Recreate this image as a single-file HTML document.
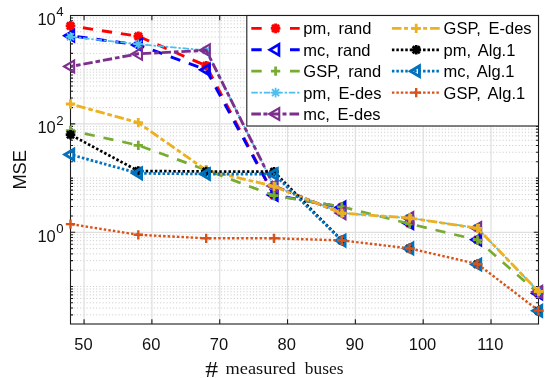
<!DOCTYPE html>
<html><head><meta charset="utf-8"><title>MSE vs measured buses</title>
<style>html,body{margin:0;padding:0;background:#fff}svg{display:block}.t{font-family:"Liberation Sans",Arial,sans-serif;font-size:16.5px;fill:#111}</style>
</head><body>
<svg width="550" height="378" viewBox="0 0 550 378">
<rect width="550" height="378" fill="#fff"/>
<defs><clipPath id="ax"><rect x="70.5" y="15.5" width="468" height="308.5"/></clipPath></defs>
<path d="M70.5 314.84H538.5M70.5 308.07H538.5M70.5 302.82H538.5M70.5 298.52H538.5M70.5 294.90H538.5M70.5 291.75H538.5M70.5 288.98H538.5M70.5 270.18H538.5M70.5 260.64H538.5M70.5 253.87H538.5M70.5 248.62H538.5M70.5 244.32H538.5M70.5 240.70H538.5M70.5 237.55H538.5M70.5 234.78H538.5M70.5 215.98H538.5M70.5 206.44H538.5M70.5 199.67H538.5M70.5 194.42H538.5M70.5 190.12H538.5M70.5 186.50H538.5M70.5 183.35H538.5M70.5 180.58H538.5M70.5 161.78H538.5M70.5 152.24H538.5M70.5 145.47H538.5M70.5 140.22H538.5M70.5 135.92H538.5M70.5 132.30H538.5M70.5 129.15H538.5M70.5 126.38H538.5M70.5 107.58H538.5M70.5 98.04H538.5M70.5 91.27H538.5M70.5 86.02H538.5M70.5 81.72H538.5M70.5 78.10H538.5M70.5 74.95H538.5M70.5 72.18H538.5M70.5 53.38H538.5M70.5 43.84H538.5M70.5 37.07H538.5M70.5 31.82H538.5M70.5 27.52H538.5M70.5 23.90H538.5M70.5 20.75H538.5M70.5 17.98H538.5M70.5 286.50H538.5M70.5 178.10H538.5M70.5 69.70H538.5" stroke="#cdcdcd" stroke-width="1" stroke-dasharray="1.1 2.1" fill="none"/>
<path d="M84.07 15.5V324.0M151.89 15.5V324.0M219.72 15.5V324.0M287.54 15.5V324.0M355.37 15.5V324.0M423.20 15.5V324.0M491.02 15.5V324.0M70.5 232.30H538.5M70.5 123.90H538.5" stroke="#dfdfdf" stroke-width="1.2" fill="none"/>
<rect x="70.5" y="15.5" width="468.0" height="308.5" fill="none" stroke="#1c1c1c" stroke-width="1.1"/>
<path d="M84.07 324.0v-4.7M84.07 15.5v4.7M151.89 324.0v-4.7M151.89 15.5v4.7M219.72 324.0v-4.7M219.72 15.5v4.7M287.54 324.0v-4.7M287.54 15.5v4.7M355.37 324.0v-4.7M355.37 15.5v4.7M423.20 324.0v-4.7M423.20 15.5v4.7M491.02 324.0v-4.7M491.02 15.5v4.7M70.5 232.30h4.7M538.5 232.30h-4.7M70.5 123.90h4.7M538.5 123.90h-4.7M70.5 314.84h2.5M538.5 314.84h-2.5M70.5 308.07h2.5M538.5 308.07h-2.5M70.5 302.82h2.5M538.5 302.82h-2.5M70.5 298.52h2.5M538.5 298.52h-2.5M70.5 294.90h2.5M538.5 294.90h-2.5M70.5 291.75h2.5M538.5 291.75h-2.5M70.5 288.98h2.5M538.5 288.98h-2.5M70.5 270.18h2.5M538.5 270.18h-2.5M70.5 260.64h2.5M538.5 260.64h-2.5M70.5 253.87h2.5M538.5 253.87h-2.5M70.5 248.62h2.5M538.5 248.62h-2.5M70.5 244.32h2.5M538.5 244.32h-2.5M70.5 240.70h2.5M538.5 240.70h-2.5M70.5 237.55h2.5M538.5 237.55h-2.5M70.5 234.78h2.5M538.5 234.78h-2.5M70.5 215.98h2.5M538.5 215.98h-2.5M70.5 206.44h2.5M538.5 206.44h-2.5M70.5 199.67h2.5M538.5 199.67h-2.5M70.5 194.42h2.5M538.5 194.42h-2.5M70.5 190.12h2.5M538.5 190.12h-2.5M70.5 186.50h2.5M538.5 186.50h-2.5M70.5 183.35h2.5M538.5 183.35h-2.5M70.5 180.58h2.5M538.5 180.58h-2.5M70.5 161.78h2.5M538.5 161.78h-2.5M70.5 152.24h2.5M538.5 152.24h-2.5M70.5 145.47h2.5M538.5 145.47h-2.5M70.5 140.22h2.5M538.5 140.22h-2.5M70.5 135.92h2.5M538.5 135.92h-2.5M70.5 132.30h2.5M538.5 132.30h-2.5M70.5 129.15h2.5M538.5 129.15h-2.5M70.5 126.38h2.5M538.5 126.38h-2.5M70.5 107.58h2.5M538.5 107.58h-2.5M70.5 98.04h2.5M538.5 98.04h-2.5M70.5 91.27h2.5M538.5 91.27h-2.5M70.5 86.02h2.5M538.5 86.02h-2.5M70.5 81.72h2.5M538.5 81.72h-2.5M70.5 78.10h2.5M538.5 78.10h-2.5M70.5 74.95h2.5M538.5 74.95h-2.5M70.5 72.18h2.5M538.5 72.18h-2.5M70.5 53.38h2.5M538.5 53.38h-2.5M70.5 43.84h2.5M538.5 43.84h-2.5M70.5 37.07h2.5M538.5 37.07h-2.5M70.5 31.82h2.5M538.5 31.82h-2.5M70.5 27.52h2.5M538.5 27.52h-2.5M70.5 23.90h2.5M538.5 23.90h-2.5M70.5 20.75h2.5M538.5 20.75h-2.5M70.5 17.98h2.5M538.5 17.98h-2.5M70.5 286.50h2.5M538.5 286.50h-2.5M70.5 178.10h2.5M538.5 178.10h-2.5M70.5 69.70h2.5M538.5 69.70h-2.5" stroke="#1c1c1c" stroke-width="1.1" fill="none"/>
<polyline clip-path="url(#ax)" points="274.0,195.3 206.2,65.8 138.3,36.3 70.5,25.9" fill="none" stroke="#ff0000" stroke-width="2.9" stroke-dasharray="10.2 9" stroke-dashoffset="2.78" stroke-linejoin="round"/>
<path d="M65.70 25.90H75.30M70.50 21.10V30.70M66.95 22.35L74.05 29.45M66.95 29.45L74.05 22.35" stroke="#ff0000" stroke-width="2.9" fill="none"/>
<path d="M133.50 36.30H143.10M138.30 31.50V41.10M134.75 32.75L141.85 39.85M134.75 39.85L141.85 32.75" stroke="#ff0000" stroke-width="2.9" fill="none"/>
<path d="M201.40 65.80H211.00M206.20 61.00V70.60M202.65 62.25L209.75 69.35M202.65 69.35L209.75 62.25" stroke="#ff0000" stroke-width="2.9" fill="none"/>
<path d="M269.20 195.30H278.80M274.00 190.50V200.10M270.45 191.75L277.55 198.85M270.45 198.85L277.55 191.75" stroke="#ff0000" stroke-width="2.9" fill="none"/>
<path d="M337.00 207.00H346.60M341.80 202.20V211.80M338.25 203.45L345.35 210.55M338.25 210.55L345.35 203.45" stroke="#ff0000" stroke-width="2.9" fill="none"/>
<path d="M404.80 223.30H414.40M409.60 218.50V228.10M406.05 219.75L413.15 226.85M406.05 226.85L413.15 219.75" stroke="#ff0000" stroke-width="2.9" fill="none"/>
<path d="M472.70 239.80H482.30M477.50 235.00V244.60M473.95 236.25L481.05 243.35M473.95 243.35L481.05 236.25" stroke="#ff0000" stroke-width="2.9" fill="none"/>
<path d="M533.70 293.50H543.30M538.50 288.70V298.30M534.95 289.95L542.05 297.05M534.95 297.05L542.05 289.95" stroke="#ff0000" stroke-width="2.9" fill="none"/>
<polyline clip-path="url(#ax)" points="341.8,207.3 274.0,195.0 206.2,69.8 138.3,44.9 70.5,35.7" fill="none" stroke="#0000ff" stroke-width="2.9" stroke-dasharray="10.2 9" stroke-dashoffset="10.75" stroke-linejoin="round"/>
<path d="M64.60 35.70L73.85 30.24V41.16Z" stroke="#0000ff" stroke-width="2.7" fill="none" stroke-linejoin="miter"/>
<path d="M132.40 44.90L141.65 39.44V50.36Z" stroke="#0000ff" stroke-width="2.7" fill="none" stroke-linejoin="miter"/>
<path d="M200.30 69.80L209.55 64.34V75.26Z" stroke="#0000ff" stroke-width="2.7" fill="none" stroke-linejoin="miter"/>
<path d="M268.10 195.00L277.35 189.54V200.46Z" stroke="#0000ff" stroke-width="2.7" fill="none" stroke-linejoin="miter"/>
<path d="M335.90 207.30L345.15 201.84V212.76Z" stroke="#0000ff" stroke-width="2.7" fill="none" stroke-linejoin="miter"/>
<path d="M403.70 223.30L412.95 217.84V228.76Z" stroke="#0000ff" stroke-width="2.7" fill="none" stroke-linejoin="miter"/>
<path d="M471.60 239.70L480.85 234.24V245.16Z" stroke="#0000ff" stroke-width="2.7" fill="none" stroke-linejoin="miter"/>
<path d="M532.60 293.50L541.85 288.04V298.96Z" stroke="#0000ff" stroke-width="2.7" fill="none" stroke-linejoin="miter"/>
<polyline clip-path="url(#ax)" points="538.5,293.5 477.5,240.0 409.6,223.8 341.8,206.8 274.0,195.6 206.2,170.0 138.3,145.3 70.5,130.5" fill="none" stroke="#77ac30" stroke-width="2.7" stroke-dasharray="10.2 9" stroke-dashoffset="1.10" stroke-linejoin="round"/>
<path d="M65.85 130.50H75.15M70.50 125.85V135.15" stroke="#77ac30" stroke-width="2.7" fill="none"/>
<path d="M133.65 145.30H142.95M138.30 140.65V149.95" stroke="#77ac30" stroke-width="2.7" fill="none"/>
<path d="M201.55 170.00H210.85M206.20 165.35V174.65" stroke="#77ac30" stroke-width="2.7" fill="none"/>
<path d="M269.35 195.60H278.65M274.00 190.95V200.25" stroke="#77ac30" stroke-width="2.7" fill="none"/>
<path d="M337.15 206.80H346.45M341.80 202.15V211.45" stroke="#77ac30" stroke-width="2.7" fill="none"/>
<path d="M404.95 223.80H414.25M409.60 219.15V228.45" stroke="#77ac30" stroke-width="2.7" fill="none"/>
<path d="M472.85 240.00H482.15M477.50 235.35V244.65" stroke="#77ac30" stroke-width="2.7" fill="none"/>
<path d="M533.85 293.50H543.15M538.50 288.85V298.15" stroke="#77ac30" stroke-width="2.7" fill="none"/>
<polyline clip-path="url(#ax)" points="538.5,291.7 477.5,228.0 409.6,218.0 341.8,213.0 274.0,186.0 206.2,50.3 138.3,44.2 70.5,36.8" fill="none" stroke="#4dbeee" stroke-width="1.75" stroke-dasharray="2.4 1.8 6.5 1.8" stroke-dashoffset="0.00" stroke-linejoin="round"/>
<path d="M65.70 36.80H75.30M70.50 32.00V41.60M66.95 33.25L74.05 40.35M66.95 40.35L74.05 33.25" stroke="#4dbeee" stroke-width="1.75" fill="none"/>
<path d="M133.50 44.20H143.10M138.30 39.40V49.00M134.75 40.65L141.85 47.75M134.75 47.75L141.85 40.65" stroke="#4dbeee" stroke-width="1.75" fill="none"/>
<path d="M201.40 50.30H211.00M206.20 45.50V55.10M202.65 46.75L209.75 53.85M202.65 53.85L209.75 46.75" stroke="#4dbeee" stroke-width="1.75" fill="none"/>
<path d="M269.20 186.00H278.80M274.00 181.20V190.80M270.45 182.45L277.55 189.55M270.45 189.55L277.55 182.45" stroke="#4dbeee" stroke-width="1.75" fill="none"/>
<path d="M337.00 213.00H346.60M341.80 208.20V217.80M338.25 209.45L345.35 216.55M338.25 216.55L345.35 209.45" stroke="#4dbeee" stroke-width="1.75" fill="none"/>
<path d="M404.80 218.00H414.40M409.60 213.20V222.80M406.05 214.45L413.15 221.55M406.05 221.55L413.15 214.45" stroke="#4dbeee" stroke-width="1.75" fill="none"/>
<path d="M472.70 228.00H482.30M477.50 223.20V232.80M473.95 224.45L481.05 231.55M473.95 231.55L481.05 224.45" stroke="#4dbeee" stroke-width="1.75" fill="none"/>
<path d="M533.70 291.70H543.30M538.50 286.90V296.50M534.95 288.15L542.05 295.25M534.95 295.25L542.05 288.15" stroke="#4dbeee" stroke-width="1.75" fill="none"/>
<polyline clip-path="url(#ax)" points="341.8,213.1 274.0,186.0 206.2,50.3 138.3,53.8 70.5,66.5" fill="none" stroke="#7e2f8e" stroke-width="2.9" stroke-dasharray="4.6 2.9 9.4 2.9" stroke-dashoffset="4.95" stroke-linejoin="round"/>
<path d="M64.00 66.50L74.15 60.52V72.48Z" stroke="#7e2f8e" stroke-width="2.1" fill="none" stroke-linejoin="miter"/>
<path d="M131.80 53.80L141.95 47.82V59.78Z" stroke="#7e2f8e" stroke-width="2.1" fill="none" stroke-linejoin="miter"/>
<path d="M199.70 50.30L209.85 44.32V56.28Z" stroke="#7e2f8e" stroke-width="2.1" fill="none" stroke-linejoin="miter"/>
<path d="M267.50 186.00L277.65 180.02V191.98Z" stroke="#7e2f8e" stroke-width="2.1" fill="none" stroke-linejoin="miter"/>
<path d="M335.30 213.10L345.45 207.12V219.08Z" stroke="#7e2f8e" stroke-width="2.1" fill="none" stroke-linejoin="miter"/>
<path d="M403.10 218.00L413.25 212.02V223.98Z" stroke="#7e2f8e" stroke-width="2.1" fill="none" stroke-linejoin="miter"/>
<path d="M471.00 228.00L481.15 222.02V233.98Z" stroke="#7e2f8e" stroke-width="2.1" fill="none" stroke-linejoin="miter"/>
<path d="M532.00 291.90L542.15 285.92V297.88Z" stroke="#7e2f8e" stroke-width="2.1" fill="none" stroke-linejoin="miter"/>
<polyline clip-path="url(#ax)" points="538.5,291.5 477.5,228.3 409.6,218.0 341.8,213.2 274.0,186.3 206.2,170.2 138.3,122.7 70.5,104.0" fill="none" stroke="#edb120" stroke-width="2.8" stroke-dasharray="4.6 2.9 9.4 2.9" stroke-dashoffset="17.60" stroke-linejoin="round"/>
<path d="M65.85 104.00H75.15M70.50 99.35V108.65" stroke="#edb120" stroke-width="2.8" fill="none"/>
<path d="M133.65 122.70H142.95M138.30 118.05V127.35" stroke="#edb120" stroke-width="2.8" fill="none"/>
<path d="M201.55 170.20H210.85M206.20 165.55V174.85" stroke="#edb120" stroke-width="2.8" fill="none"/>
<path d="M269.35 186.30H278.65M274.00 181.65V190.95" stroke="#edb120" stroke-width="2.8" fill="none"/>
<path d="M337.15 213.20H346.45M341.80 208.55V217.85" stroke="#edb120" stroke-width="2.8" fill="none"/>
<path d="M404.95 218.00H414.25M409.60 213.35V222.65" stroke="#edb120" stroke-width="2.8" fill="none"/>
<path d="M472.85 228.30H482.15M477.50 223.65V232.95" stroke="#edb120" stroke-width="2.8" fill="none"/>
<path d="M533.85 291.50H543.15M538.50 286.85V296.15" stroke="#edb120" stroke-width="2.8" fill="none"/>
<polyline clip-path="url(#ax)" points="341.8,240.4 274.0,171.7 206.2,171.5 138.3,171.0 70.5,134.7" fill="none" stroke="#000000" stroke-width="2.7" stroke-dasharray="2.5 2.1" stroke-dashoffset="3.05" stroke-linejoin="round"/>
<path d="M65.70 134.70H75.30M70.50 129.90V139.50M66.95 131.15L74.05 138.25M66.95 138.25L74.05 131.15" stroke="#000000" stroke-width="2.7" fill="none"/>
<path d="M133.50 171.00H143.10M138.30 166.20V175.80M134.75 167.45L141.85 174.55M134.75 174.55L141.85 167.45" stroke="#000000" stroke-width="2.7" fill="none"/>
<path d="M201.40 171.50H211.00M206.20 166.70V176.30M202.65 167.95L209.75 175.05M202.65 175.05L209.75 167.95" stroke="#000000" stroke-width="2.7" fill="none"/>
<path d="M269.20 171.70H278.80M274.00 166.90V176.50M270.45 168.15L277.55 175.25M270.45 175.25L277.55 168.15" stroke="#000000" stroke-width="2.7" fill="none"/>
<path d="M337.00 240.40H346.60M341.80 235.60V245.20M338.25 236.85L345.35 243.95M338.25 243.95L345.35 236.85" stroke="#000000" stroke-width="2.7" fill="none"/>
<path d="M404.80 248.40H414.40M409.60 243.60V253.20M406.05 244.85L413.15 251.95M406.05 251.95L413.15 244.85" stroke="#000000" stroke-width="2.7" fill="none"/>
<path d="M472.70 264.30H482.30M477.50 259.50V269.10M473.95 260.75L481.05 267.85M473.95 267.85L481.05 260.75" stroke="#000000" stroke-width="2.7" fill="none"/>
<path d="M533.70 310.70H543.30M538.50 305.90V315.50M534.95 307.15L542.05 314.25M534.95 314.25L542.05 307.15" stroke="#000000" stroke-width="2.7" fill="none"/>
<polyline clip-path="url(#ax)" points="341.8,240.6 274.0,174.0 206.2,174.0 138.3,173.3 70.5,154.6" fill="none" stroke="#0072bd" stroke-width="2.8" stroke-dasharray="2.5 2.1" stroke-dashoffset="3.01" stroke-linejoin="round"/>
<path d="M64.80 154.60L73.75 149.31V159.89Z" stroke="#0072bd" stroke-width="2.9" fill="none" stroke-linejoin="miter"/>
<path d="M132.60 173.30L141.55 168.01V178.59Z" stroke="#0072bd" stroke-width="2.9" fill="none" stroke-linejoin="miter"/>
<path d="M200.50 174.00L209.45 168.71V179.29Z" stroke="#0072bd" stroke-width="2.9" fill="none" stroke-linejoin="miter"/>
<path d="M268.30 174.00L277.25 168.71V179.29Z" stroke="#0072bd" stroke-width="2.9" fill="none" stroke-linejoin="miter"/>
<path d="M336.10 240.60L345.05 235.31V245.89Z" stroke="#0072bd" stroke-width="2.9" fill="none" stroke-linejoin="miter"/>
<path d="M403.90 248.40L412.85 243.11V253.69Z" stroke="#0072bd" stroke-width="2.9" fill="none" stroke-linejoin="miter"/>
<path d="M471.80 264.50L480.75 259.21V269.79Z" stroke="#0072bd" stroke-width="2.9" fill="none" stroke-linejoin="miter"/>
<path d="M532.80 310.80L541.75 305.51V316.09Z" stroke="#0072bd" stroke-width="2.9" fill="none" stroke-linejoin="miter"/>
<polyline clip-path="url(#ax)" points="538.5,310.6 477.5,264.0 409.6,248.4 341.8,240.4 274.0,238.3 206.2,238.3 138.3,234.8 70.5,224.1" fill="none" stroke="#d95319" stroke-width="2.4" stroke-dasharray="2.5 2.1" stroke-dashoffset="0.00" stroke-linejoin="round"/>
<path d="M65.85 224.10H75.15M70.50 219.45V228.75" stroke="#d95319" stroke-width="2.4" fill="none"/>
<path d="M133.65 234.80H142.95M138.30 230.15V239.45" stroke="#d95319" stroke-width="2.4" fill="none"/>
<path d="M201.55 238.30H210.85M206.20 233.65V242.95" stroke="#d95319" stroke-width="2.4" fill="none"/>
<path d="M269.35 238.30H278.65M274.00 233.65V242.95" stroke="#d95319" stroke-width="2.4" fill="none"/>
<path d="M337.15 240.40H346.45M341.80 235.75V245.05" stroke="#d95319" stroke-width="2.4" fill="none"/>
<path d="M404.95 248.40H414.25M409.60 243.75V253.05" stroke="#d95319" stroke-width="2.4" fill="none"/>
<path d="M472.85 264.00H482.15M477.50 259.35V268.65" stroke="#d95319" stroke-width="2.4" fill="none"/>
<path d="M533.85 310.60H543.15M538.50 305.95V315.25" stroke="#d95319" stroke-width="2.4" fill="none"/>
<rect x="246.8" y="15.5" width="291.7" height="110.5" fill="#fff" stroke="#1c1c1c" stroke-width="1.1"/>
<path d="M251.3 28.4H299.7" stroke="#ff0000" stroke-width="2.9" stroke-dasharray="10.4 28.3" fill="none"/>
<path d="M270.80 28.40H280.40M275.60 23.60V33.20M272.05 24.85L279.15 31.95M272.05 31.95L279.15 24.85" stroke="#ff0000" stroke-width="2.9" fill="none"/>
<text x="303.3" y="34.3" class="t" style="word-spacing:3px;fill:#000">pm, rand</text>
<path d="M251.3 49.8H299.7" stroke="#0000ff" stroke-width="2.9" stroke-dasharray="10.4 28.3" fill="none"/>
<path d="M269.70 49.80L278.95 44.34V55.26Z" stroke="#0000ff" stroke-width="2.7" fill="none" stroke-linejoin="miter"/>
<text x="303.3" y="55.7" class="t" style="word-spacing:3px;fill:#000">mc, rand</text>
<path d="M251.3 71.2H299.7" stroke="#77ac30" stroke-width="2.7" stroke-dasharray="10.4 28.3" fill="none"/>
<path d="M270.95 71.20H280.25M275.60 66.55V75.85" stroke="#77ac30" stroke-width="2.7" fill="none"/>
<text x="303.3" y="77.1" class="t" style="word-spacing:3px;fill:#000">GSP, rand</text>
<path d="M251.3 92.6H299.7" stroke="#4dbeee" stroke-width="1.75" stroke-dasharray="6.5 1.8 2.4 1.8" fill="none"/>
<path d="M270.80 92.60H280.40M275.60 87.80V97.40M272.05 89.05L279.15 96.15M272.05 96.15L279.15 89.05" stroke="#4dbeee" stroke-width="1.75" fill="none"/>
<text x="303.3" y="98.5" class="t" style="word-spacing:3px;fill:#000">pm, E-des</text>
<path d="M251.3 114.0H299.7" stroke="#7e2f8e" stroke-width="2.9" stroke-dasharray="9.6 2.5 4.0 3.0" fill="none"/>
<path d="M269.10 114.00L279.25 108.02V119.98Z" stroke="#7e2f8e" stroke-width="2.1" fill="none" stroke-linejoin="miter"/>
<text x="303.3" y="119.9" class="t" style="word-spacing:3px;fill:#000">mc, E-des</text>
<path d="M391.9 28.4H440.29999999999995" stroke="#edb120" stroke-width="2.8" stroke-dasharray="9.6 2.5 4.0 3.0" fill="none"/>
<path d="M411.55 28.40H420.85M416.20 23.75V33.05" stroke="#edb120" stroke-width="2.8" fill="none"/>
<text x="443.6" y="34.3" class="t" style="word-spacing:3px;fill:#000">GSP, E-des</text>
<path d="M391.9 49.8H440.29999999999995" stroke="#000000" stroke-width="2.7" stroke-dasharray="2.5 1.95" fill="none"/>
<path d="M411.40 49.80H421.00M416.20 45.00V54.60M412.65 46.25L419.75 53.35M412.65 53.35L419.75 46.25" stroke="#000000" stroke-width="2.7" fill="none"/>
<text x="443.6" y="55.7" class="t" style="word-spacing:3px;fill:#000">pm, Alg.1</text>
<path d="M391.9 71.2H440.29999999999995" stroke="#0072bd" stroke-width="2.8" stroke-dasharray="2.5 1.95" fill="none"/>
<path d="M410.50 71.20L419.45 65.91V76.49Z" stroke="#0072bd" stroke-width="2.9" fill="none" stroke-linejoin="miter"/>
<text x="443.6" y="77.1" class="t" style="word-spacing:3px;fill:#000">mc, Alg.1</text>
<path d="M391.9 92.6H440.29999999999995" stroke="#d95319" stroke-width="2.4" stroke-dasharray="2.5 1.95" fill="none"/>
<path d="M411.55 92.60H420.85M416.20 87.95V97.25" stroke="#d95319" stroke-width="2.4" fill="none"/>
<text x="443.6" y="98.5" class="t" style="word-spacing:3px;fill:#000">GSP, Alg.1</text>
<text x="83.4" y="349.8" class="t" text-anchor="middle">50</text>
<text x="151.2" y="349.8" class="t" text-anchor="middle">60</text>
<text x="219.0" y="349.8" class="t" text-anchor="middle">70</text>
<text x="286.8" y="349.8" class="t" text-anchor="middle">80</text>
<text x="354.7" y="349.8" class="t" text-anchor="middle">90</text>
<text x="422.5" y="349.8" class="t" text-anchor="middle">100</text>
<text x="490.3" y="349.8" class="t" text-anchor="middle">110</text>
<text x="55.8" y="24.9" class="t" text-anchor="end">10</text>
<text x="56.3" y="16.4" class="t" style="font-size:13.2px">4</text>
<text x="55.8" y="133.3" class="t" text-anchor="end">10</text>
<text x="56.3" y="124.8" class="t" style="font-size:13.2px">2</text>
<text x="55.8" y="241.7" class="t" text-anchor="end">10</text>
<text x="56.3" y="233.2" class="t" style="font-size:13.2px">0</text>
<text transform="translate(25.6 169.8) rotate(-90)" class="t" text-anchor="middle" style="font-size:18.3px">MSE</text>
<text x="205.2" y="376.6" style="font-family:'Liberation Serif',serif;font-size:22.5px" fill="#111" textLength="12.8" lengthAdjust="spacingAndGlyphs">#</text>
<text x="225.6" y="373.7" style="font-family:'Liberation Serif',serif;font-size:17.5px" fill="#111" textLength="70.2" lengthAdjust="spacingAndGlyphs">measured</text>
<text x="304.8" y="373.7" style="font-family:'Liberation Serif',serif;font-size:17.5px" fill="#111" textLength="38.6" lengthAdjust="spacingAndGlyphs">buses</text>
</svg>
</body></html>
